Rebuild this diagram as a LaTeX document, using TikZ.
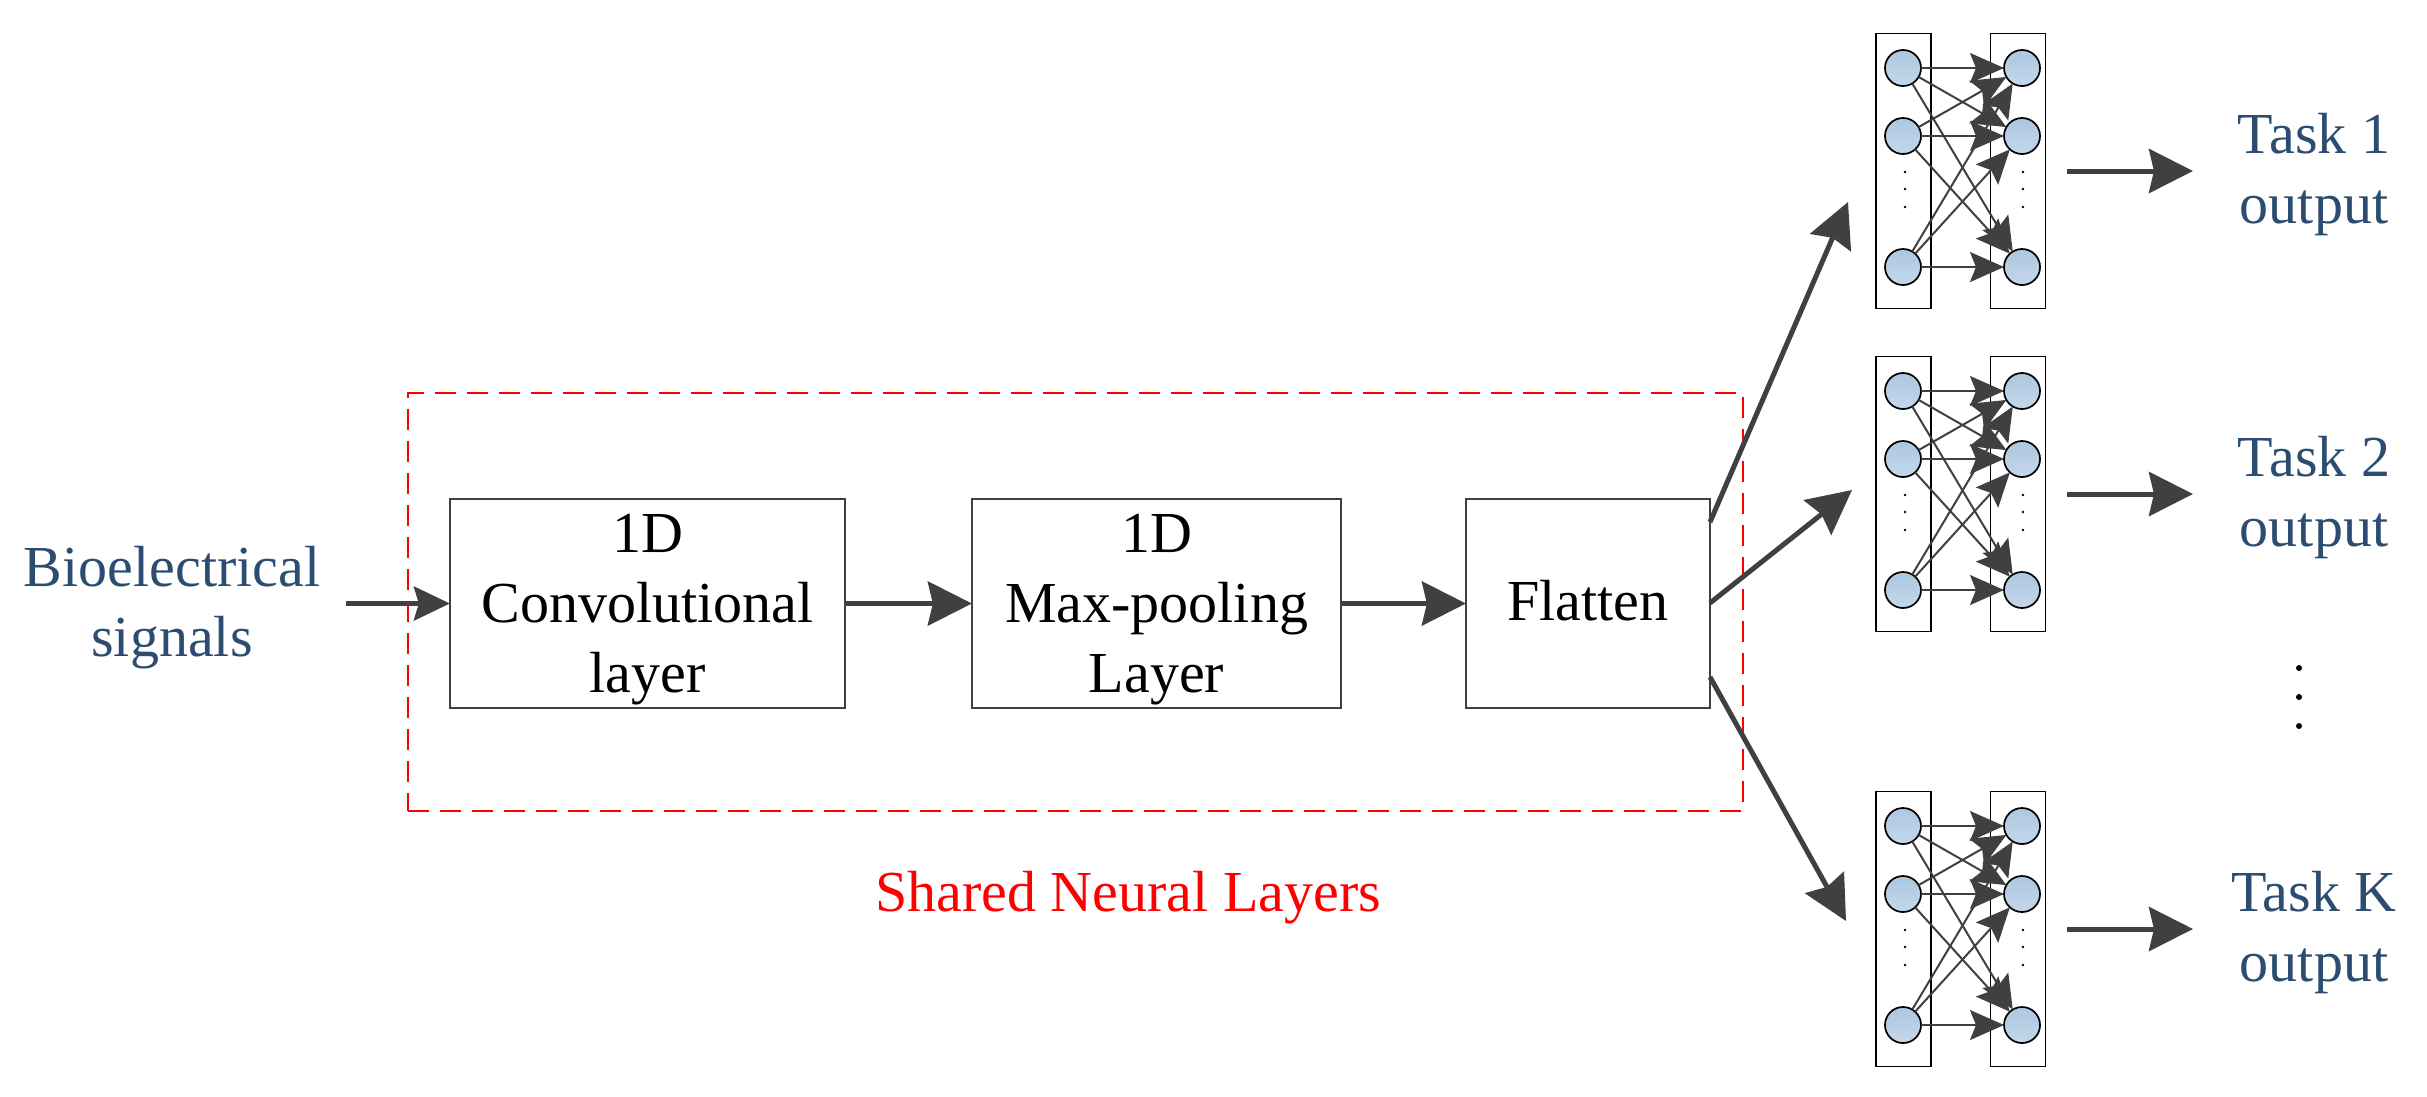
\documentclass[tikz,border=0pt]{standalone}
\usepackage{fontspec}
\setmainfont{Liberation Serif}
\usetikzlibrary{arrows.meta}
\definecolor{txtblue}{RGB}{44,77,113}
\definecolor{arrowgray}{RGB}{64,64,64}
\definecolor{ntop}{RGB}{172,199,224}
\definecolor{nbot}{RGB}{196,215,234}
\tikzset{
  fnt/.style={font=\fontsize{16.5}{19.9}\selectfont},
  layerbox/.style={draw=arrowgray, line width=0.015cm, inner sep=0pt, outer sep=0pt,
    minimum height=2.09cm},
  layertext/.style={align=center, fnt, inner sep=0pt},
  bigarrow/.style={draw=arrowgray, line width=0.05cm,
    -{Stealth[length=0.44cm,width=0.44cm,inset=0.05cm]}},
  inarrow/.style={draw=arrowgray, line width=0.045cm,
    -{Stealth[length=0.36cm,width=0.34cm,inset=0.05cm]}},
  smallarrow/.style={draw=arrowgray, line width=0.02cm,
    -{Stealth[length=0.34cm,width=0.3cm,inset=0.06cm]}},
  neuron/.style={circle, draw=black, line width=0.017cm, minimum size=0.36cm,
    inner sep=0pt, outer sep=0pt, top color=ntop, bottom color=nbot},
  column/.style={draw=black, line width=0.017cm, minimum width=0.55cm,
    minimum height=2.75cm, inner sep=0pt, outer sep=0pt},
  bluetext/.style={text=txtblue, align=center, fnt, inner sep=0pt},
  sharedbox/.style={draw=red, line width=0.02cm, dash pattern=on 0.21cm off 0.11cm,
    minimum width=13.35cm, minimum height=4.18cm, inner sep=0pt, outer sep=0pt},
  redtext/.style={text=red, fnt, inner sep=0pt},
}
% #1 prefix, #2 top y (px), #3 task label
\newcommand\netblock[3]{%
  \node[column] (#1colL) at (1903.5,#2+137) {};
  \node[column] (#1colR) at (2018,#2+137) {};
  \node[neuron] (#1L1) at (1903,#2+34) {};
  \node[neuron] (#1L2) at (1903,#2+102) {};
  \node[neuron] (#1L3) at (1903,#2+233) {};
  \node[neuron] (#1R1) at (2022,#2+34) {};
  \node[neuron] (#1R2) at (2022,#2+102) {};
  \node[neuron] (#1R3) at (2022,#2+233) {};
  \foreach \yy in {138,155,173}{
    \fill (1905,#2+\yy) circle (0.013cm);
    \fill (2023,#2+\yy) circle (0.013cm);
  }
  \foreach \i in {1,2,3}{\foreach \j in {1,2,3}{\draw[smallarrow] (#1L\i) -- (#1R\j);}}
  \coordinate (#1os) at (2067,#2+137);
  \coordinate (#1oe) at (2193,#2+137);
  \draw[bigarrow] (#1os) -- (#1oe);
  \node[bluetext] (#1txt) at (2314,#2+141) {#3\\output};
}
\begin{document}
\begin{tikzpicture}[x=0.01cm,y=-0.01cm]
\useasboundingbox (0,0) rectangle (2427,1096);
% shared region
\node[sharedbox] (shared) at (1075.5,602) {};
\node[redtext] (sharedlbl) at (1128,898) {Shared Neural Layers};
% input
\node[bluetext] (input) at (172,608) {Bioelectrical\\signals};
% layers
\node[layerbox, minimum width=3.95cm] (conv) at (647.5,603.5) {};
\node[layertext] (convtxt) at (647.5,610) {1D\\Convolutional\\layer};
\node[layerbox, minimum width=3.69cm] (pool) at (1156.5,603.5) {};
\node[layertext] (pooltxt) at (1156.5,610) {1D\\Max-pooling\\Layer};
\node[layerbox, minimum width=2.44cm] (flat) at (1588,603.5) {};
\node[layertext] (flattxt) at (1588,601) {Flatten};
\coordinate (inp) at (346,603.5);
\draw[inarrow] (inp) -- (conv.west);
\draw[bigarrow] (conv.east) -- (pool.west);
\draw[bigarrow] (pool.east) -- (flat.west);
% task heads
\netblock{a}{34}{Task 1}
\netblock{b}{357}{Task 2}
\netblock{k}{792}{Task K}
% flatten to heads
\coordinate (f1) at (1710,522);
\coordinate (f2) at (1710,603);
\coordinate (f3) at (1710,677);
\coordinate (h1) at (1848,202);
\coordinate (h2) at (1852,490);
\coordinate (h3) at (1846,921);
\draw[bigarrow] (f1) -- (h1);
\draw[bigarrow] (f2) -- (h2);
\draw[bigarrow] (f3) -- (h3);
% vertical dots between task 2 and task K
\fill (2299,668) circle (0.03cm);
\fill (2299,697) circle (0.03cm);
\fill (2299,726) circle (0.03cm);
\end{tikzpicture}
\end{document}
